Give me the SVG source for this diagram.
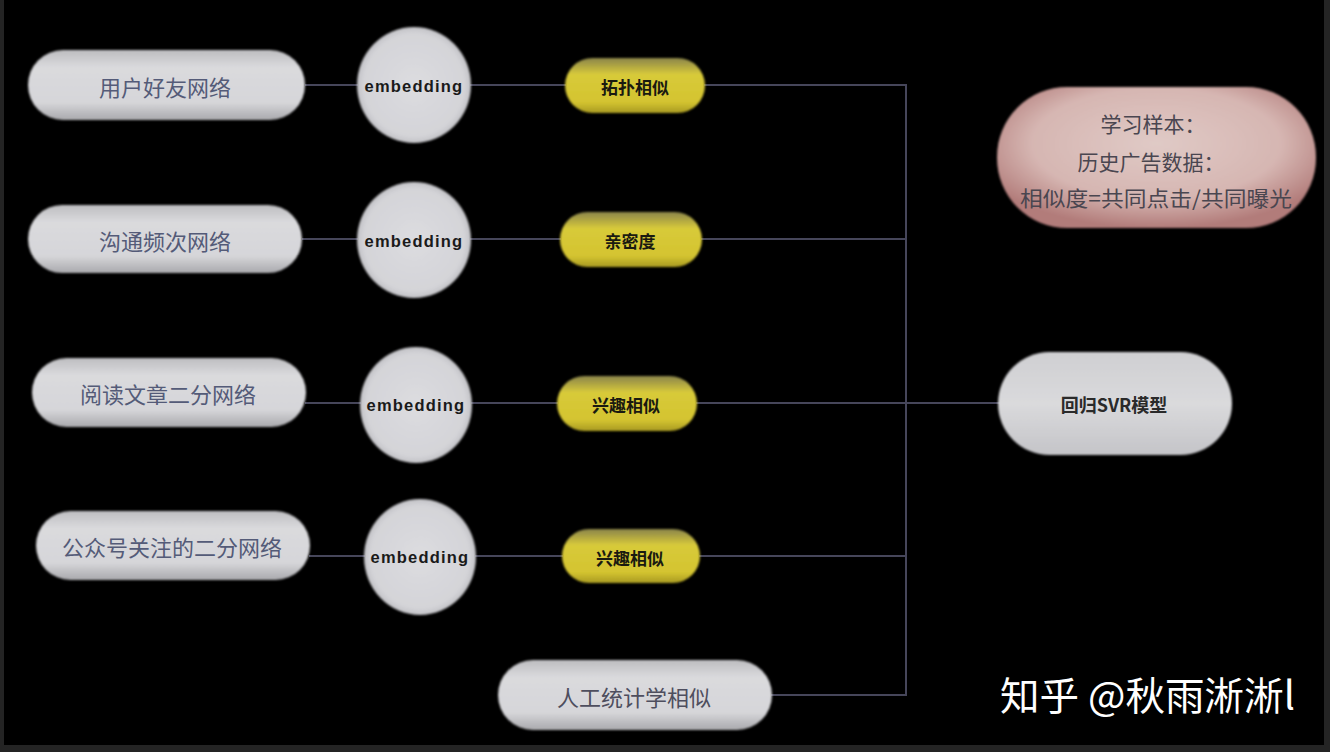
<svg xmlns="http://www.w3.org/2000/svg" width="1330" height="752" viewBox="0 0 1330 752">
<defs>
<linearGradient id="gGray" x1="0" y1="0" x2="0" y2="1">
<stop offset="0" stop-color="#bdbdc0"/>
<stop offset="0.25" stop-color="#dadadd"/>
<stop offset="0.75" stop-color="#d6d6d9"/>
<stop offset="1" stop-color="#a9a9ad"/>
</linearGradient>
<radialGradient id="gEll" cx="0.5" cy="0.5" r="0.55">
<stop offset="0" stop-color="#dcdce0"/>
<stop offset="0.8" stop-color="#d4d4d8"/>
<stop offset="1" stop-color="#b4b4b8"/>
</radialGradient>
<linearGradient id="gYel" x1="0" y1="0" x2="0" y2="1">
<stop offset="0" stop-color="#8a844a"/>
<stop offset="0.3" stop-color="#d8ca3a"/>
<stop offset="0.8" stop-color="#d4c430"/>
<stop offset="1" stop-color="#a89a22"/>
</linearGradient>
<radialGradient id="gPink" cx="0.5" cy="0.4" r="0.6">
<stop offset="0" stop-color="#e0cac6"/>
<stop offset="0.65" stop-color="#d6b6b2"/>
<stop offset="1" stop-color="#b27c7a"/>
</radialGradient>
<linearGradient id="gSvr" x1="0" y1="0" x2="0" y2="1">
<stop offset="0" stop-color="#cfcfd2"/>
<stop offset="0.5" stop-color="#dadadc"/>
<stop offset="1" stop-color="#c4c4c8"/>
</linearGradient>
<filter id="soft" x="-10%" y="-10%" width="120%" height="120%">
<feGaussianBlur stdDeviation="1.2"/>
</filter>
</defs>
<style>
.bg{fill:#000}
.pill{fill:url(#gGray);filter:url(#soft)}
.ell{fill:url(#gEll);filter:url(#soft)}
.yel{fill:url(#gYel);filter:url(#soft)}
.lt{font-family:"Noto Sans CJK SC","Liberation Sans",sans-serif;font-size:22px;fill:#545b78;text-anchor:middle;dominant-baseline:central}
.et{font-family:"Liberation Sans","DejaVu Sans",sans-serif;font-size:16.5px;font-weight:bold;fill:#1a1a1a;text-anchor:middle;dominant-baseline:central;letter-spacing:1.2px}
.yt{font-family:"Noto Sans CJK SC",sans-serif;font-size:17px;font-weight:bold;fill:#1a1a10;text-anchor:middle;dominant-baseline:central}
.pt{font-family:"Noto Sans CJK SC",sans-serif;font-size:21px;fill:#4a4650;text-anchor:middle;dominant-baseline:central}
.conn line{stroke:#46465a;stroke-width:2}
</style>
<rect x="0" y="0" width="1330" height="752" fill="#242424"/>
<rect class="bg" x="4" y="0" width="1320" height="745"/>

<g id="connectors" class="conn">
<line x1="305" y1="85" x2="358" y2="85"/>
<line x1="470" y1="85" x2="566" y2="85"/>
<line x1="704" y1="85" x2="907" y2="85"/>
<line x1="302" y1="239" x2="358" y2="239"/>
<line x1="470" y1="239" x2="561" y2="239"/>
<line x1="701" y1="239" x2="907" y2="239"/>
<line x1="305" y1="403" x2="361" y2="403"/>
<line x1="471" y1="403" x2="558" y2="403"/>
<line x1="696" y1="403" x2="1000" y2="403"/>
<line x1="309" y1="556" x2="365" y2="556"/>
<line x1="475" y1="556" x2="563" y2="556"/>
<line x1="699" y1="556" x2="907" y2="556"/>
<line x1="771" y1="695" x2="907" y2="695"/>
<line x1="906" y1="84" x2="906" y2="696"/>
</g>

<g id="n-user">
<rect class="pill" x="28" y="50" width="277" height="70" rx="35"/>
<text class="lt" x="165" y="86">用户好友网络</text>
</g>
<g id="n-comm">
<rect class="pill" x="28" y="205" width="274" height="68" rx="34"/>
<text class="lt" x="165" y="240">沟通频次网络</text>
</g>
<g id="n-read">
<rect class="pill" x="32" y="358" width="274" height="69" rx="34.5"/>
<text class="lt" x="168" y="393">阅读文章二分网络</text>
</g>
<g id="n-follow">
<rect class="pill" x="36" y="511" width="274" height="69" rx="34.5"/>
<text class="lt" x="172" y="546">公众号关注的二分网络</text>
</g>

<g id="e1">
<ellipse class="ell" cx="414" cy="85" rx="57" ry="58"/>
<text class="et" x="414" y="86">embedding</text>
</g>
<g id="e2">
<ellipse class="ell" cx="414" cy="240" rx="57" ry="58"/>
<text class="et" x="414" y="241">embedding</text>
</g>
<g id="e3">
<ellipse class="ell" cx="416" cy="405" rx="56" ry="58"/>
<text class="et" x="416" y="405">embedding</text>
</g>
<g id="e4">
<ellipse class="ell" cx="420" cy="557" rx="56" ry="58"/>
<text class="et" x="420" y="557">embedding</text>
</g>

<g id="y1">
<rect class="yel" x="565" y="58" width="140" height="55" rx="27.5"/>
<text class="yt" x="635" y="86">拓扑相似</text>
</g>
<g id="y2">
<rect class="yel" x="560" y="212" width="142" height="55" rx="27.5"/>
<text class="yt" x="630" y="240">亲密度</text>
</g>
<g id="y3">
<rect class="yel" x="557" y="376" width="140" height="55" rx="27.5"/>
<text class="yt" x="626" y="404">兴趣相似</text>
</g>
<g id="y4">
<rect class="yel" x="562" y="529" width="138" height="54" rx="27"/>
<text class="yt" x="630" y="557">兴趣相似</text>
</g>

<g id="n-stat">
<rect class="pill" x="498" y="660" width="274" height="70" rx="35"/>
<text class="lt" x="634" y="696" style="fill:#4e4e5e">人工统计学相似</text>
</g>

<g id="n-svr">
<rect x="998" y="352" width="234" height="103" rx="51.5" fill="url(#gSvr)" filter="url(#soft)"/>
<text class="yt" x="1114" y="404" style="fill:#2a2a2a;font-size:18px">回归SVR模型</text>
</g>

<g id="n-sample">
<rect x="997" y="87" width="319" height="141" rx="70" fill="url(#gPink)" filter="url(#soft)"/>
<text class="pt" x="1153" y="123">学习样本：</text>
<text class="pt" x="1151" y="161">历史广告数据：</text>
<text class="pt" x="1156" y="197" textLength="272" lengthAdjust="spacingAndGlyphs">相似度=共同点击/共同曝光</text>
</g>

<text x="1000" y="710" font-family="Noto Sans CJK SC, sans-serif" font-size="39" fill="#ffffff" textLength="295" lengthAdjust="spacingAndGlyphs">知乎 @秋雨淅淅l</text>
</svg>
